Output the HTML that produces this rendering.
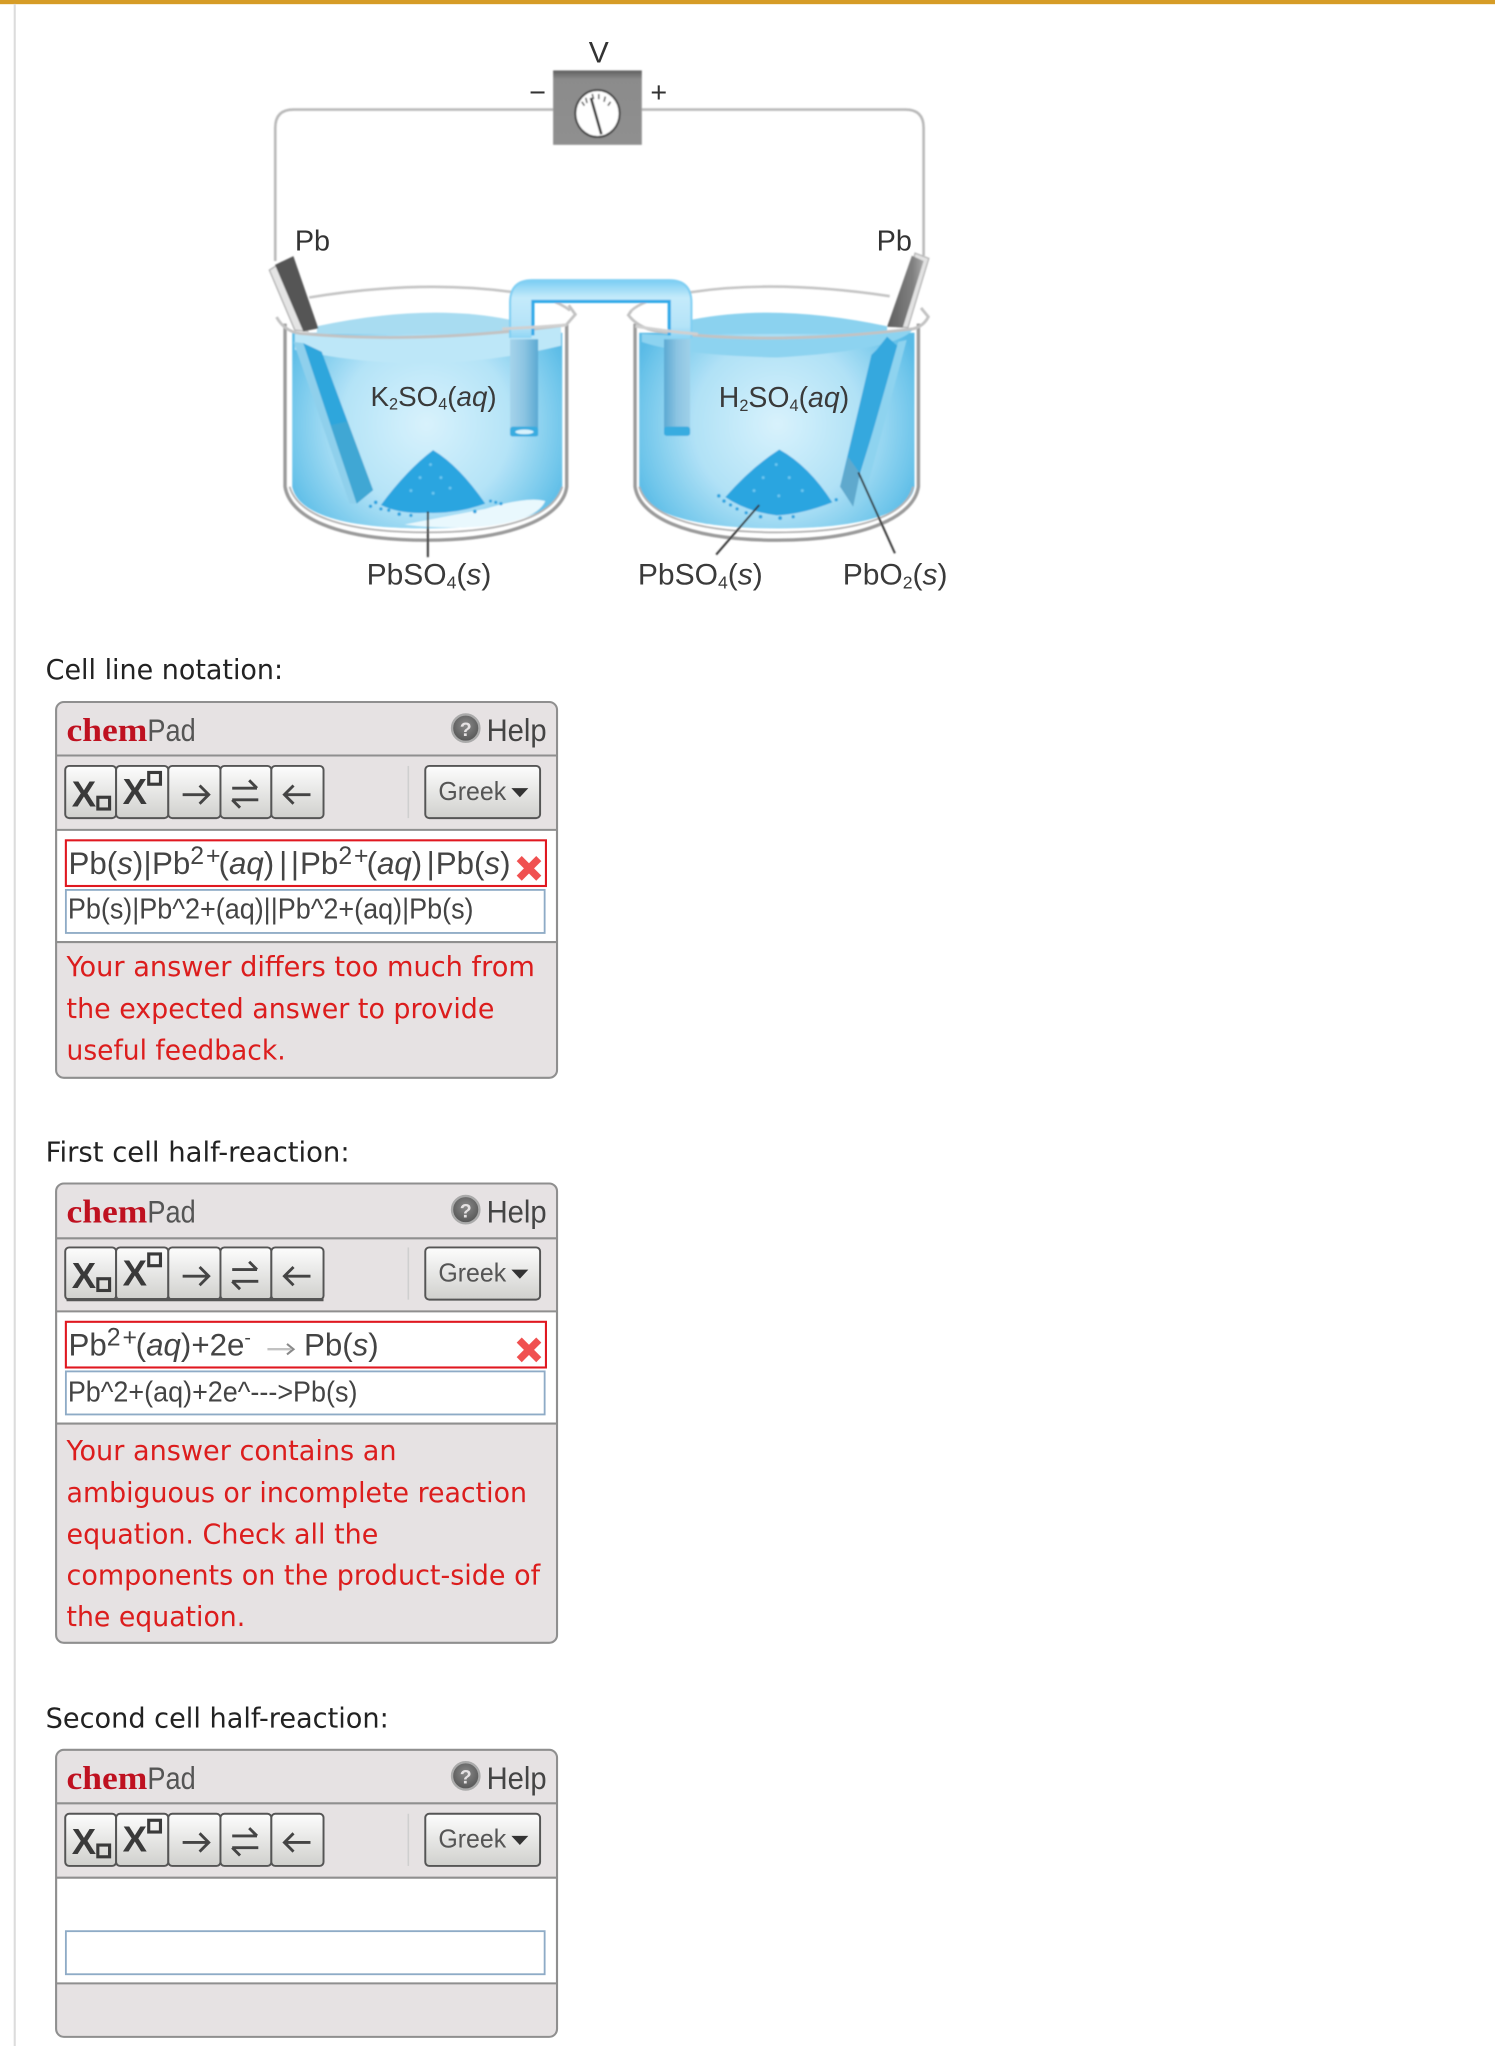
<!DOCTYPE html>
<html><head><meta charset="utf-8"><title>chemPad galvanic cell</title>
<style>
html,body{margin:0;padding:0;background:#fff;width:1495px;height:2046px;overflow:hidden}
svg{display:block}
.d{font-family:"DejaVu Sans",sans-serif}
.s{font-family:"Liberation Sans",sans-serif}
</style></head><body>
<svg width="1495" height="2046" viewBox="0 0 1146 1568" preserveAspectRatio="none" xmlns="http://www.w3.org/2000/svg">
<defs>
<linearGradient id="btn" x1="0" y1="0" x2="0" y2="1"><stop offset="0" stop-color="#fdfdfd"/><stop offset="1" stop-color="#d0d0cd"/></linearGradient>
<radialGradient id="liqL" gradientUnits="userSpaceOnUse" cx="327" cy="325" r="118"><stop offset="0" stop-color="#d8f2fc"/><stop offset=".55" stop-color="#b4e3f7"/><stop offset=".9" stop-color="#6ec5ea"/><stop offset="1" stop-color="#5abbe6"/></radialGradient>
<radialGradient id="liqR" gradientUnits="userSpaceOnUse" cx="596" cy="325" r="118"><stop offset="0" stop-color="#d8f2fc"/><stop offset=".55" stop-color="#b0e1f6"/><stop offset=".9" stop-color="#6ec5ea"/><stop offset="1" stop-color="#5abbe6"/></radialGradient>
<linearGradient id="meter" x1="0" y1="0" x2="0" y2="1"><stop offset="0" stop-color="#5f5f5f"/><stop offset=".12" stop-color="#8b8b8b"/><stop offset="1" stop-color="#8f8f8f"/></linearGradient>
<linearGradient id="pbR" x1="0" y1="0" x2="1" y2="0"><stop offset="0" stop-color="#5f5f5f"/><stop offset=".7" stop-color="#808080"/><stop offset="1" stop-color="#a8a8a8"/></linearGradient>
<linearGradient id="tubeH" x1="0" y1="0" x2="0" y2="1"><stop offset="0" stop-color="#79cdf3"/><stop offset=".3" stop-color="#c4eafa"/><stop offset=".8" stop-color="#b4e3f8"/><stop offset="1" stop-color="#8fd5f4"/></linearGradient>
<linearGradient id="legL" x1="0" y1="0" x2="1" y2="0"><stop offset="0" stop-color="#a5d3ea"/><stop offset=".5" stop-color="#8cc4e2"/><stop offset="1" stop-color="#5ba9d2"/></linearGradient>
<linearGradient id="legR" x1="0" y1="0" x2="1" y2="0"><stop offset="0" stop-color="#5ba9d2"/><stop offset=".5" stop-color="#8cc4e2"/><stop offset="1" stop-color="#9fd0e8"/></linearGradient>
<radialGradient id="help" cx=".5" cy=".4" r=".6"><stop offset="0" stop-color="#8a8a8a"/><stop offset="1" stop-color="#555"/></radialGradient>
<filter id="soft" x="-5%" y="-5%" width="110%" height="110%"><feGaussianBlur stdDeviation="0.55"/></filter>
</defs>
<rect width="1146" height="1568" fill="#fff"/>
<rect x="0" y="0" width="1146" height="3.2" fill="#d69c26"/>
<rect x="10.5" y="3" width="1.6" height="1565" fill="#dcdcdc"/>

<!-- DIAGRAM -->
<g filter="url(#soft)">
<path d="M424 84H225Q211 84 211 98V200M492 84H694Q708 84 708 98V196" fill="none" stroke="#b9b9b9" stroke-width="2"/>
<rect x="424" y="54" width="68" height="57" fill="url(#meter)"/>
<ellipse cx="458" cy="87" rx="17" ry="18" fill="#fff" stroke="#444" stroke-width="1.6"/>
<path d="M446 78l2 3M449 75l1 4M454 72l1 4M459 72v4M464 74l-1 4M468 78l-2 3" stroke="#555" stroke-width="1.2"/>
<path d="M453 75L461 103" stroke="#333" stroke-width="2"/>

<!-- left beaker -->
<path d="M237 228Q322 214 394 224M394 224Q425 228 437 238" fill="none" stroke="#c4c4c4" stroke-width="2"/>
<path d="M224 255H431V373C428 392 395 405 327 405C258 405 228 392 224 373Z" fill="url(#liqL)"/>
<path d="M243 250Q327 232 391 245V256H243Z" fill="#a8dcf1"/>
<path d="M226 256Q322 262 430 250V265Q327 290 226 268Z" fill="#bde7f8"/>
<path d="M372 390Q405 380 418 384Q412 398 375 403Q340 406 310 402Z" fill="#e9f8fd"/>
<path d="M218.500 248V373C222 395 255 414 327 414C395 414 432 395 434.400 373V248" fill="none" stroke="#9a9a9a" stroke-width="2.6"/>
<path d="M222 373C228 393 258 408 327 408C395 408 425 393 431 373" fill="none" stroke="#b0b0b0" stroke-width="1.4"/>
<path d="M212 243Q218 254 230 255.500Q322 264 434 249L441 241L436 234" fill="none" stroke="#c2c2c2" stroke-width="2.2"/>

<!-- right beaker -->
<path d="M529 224Q595 214 682 227M529 224Q495 228 484 238" fill="none" stroke="#c4c4c4" stroke-width="2"/>
<path d="M490 255H701V373C698 392 665 405 596 405C527 405 493 392 490 373Z" fill="url(#liqR)"/>
<path d="M530 245Q595 232 680 250V256H530Z" fill="#8bd2ef"/>
<path d="M492 256Q592 262 700 252Q690 268 596 274Q520 272 492 262Z" fill="#8dd3f0"/>
<path d="M486.800 248V373C490 395 524 414 596 414C665 414 701 395 704 373V248" fill="none" stroke="#9a9a9a" stroke-width="2.6"/>
<path d="M490 373C496 393 527 408 596 408C665 408 695 393 700 373" fill="none" stroke="#b0b0b0" stroke-width="1.4"/>
<path d="M484 238L481.700 241.500Q490 252 505 254Q592 265 700 252Q708 250 711.600 242.800L706 236" fill="none" stroke="#c2c2c2" stroke-width="2.2"/>

<!-- left electrode -->
<path d="M206.500 207L216 201L236 254L226 253Z" fill="#e4e4e4" stroke="#b0b0b0" stroke-width="1"/>
<path d="M210.800 203L224.900 196.300L244 251.700L232.500 254Z" fill="#555"/>
<path d="M225 262L233 263L273 386L268 386Z" fill="#8fd0ec"/>
<path d="M232.500 263L246.600 269.600L286 375.600L273.400 386Z" fill="#2fa6dc"/>
<path d="M266.400 323L286 375.600L273.400 386L253.400 326Z" fill="#4fa8cf" opacity=".6"/>

<!-- right electrode -->
<path d="M701.400 194L712 198L696 251L688 250.400Z" fill="#e2e2e2" stroke="#b5b5b5" stroke-width="1"/>
<path d="M699 196L708 200L692 251L680 250.400Z" fill="url(#pbR)"/>
<path d="M680 258L689 266L659.300 363L644 373L668 272L672 268Z" fill="#35a8de"/>
<path d="M695 260.600L688.600 262L654 384L657 388.400L663 380Z" fill="#8ed3ef"/>
<path d="M644 373L654 388.400L659.300 363L650 350Z" fill="#5fa9cd"/>

<!-- salt bridge -->
<path d="M391 259V232Q391 214.700 408 214.700H513Q530 214.700 530 232V259H513.600V231.300H407.500V259Z" fill="url(#tubeH)"/>
<path d="M391 259V232Q391 214.700 408 214.700H513Q530 214.700 530 232V259" fill="none" stroke="#80cff3" stroke-width="1.6"/>
<path d="M408.500 257V231H513V257" fill="none" stroke="#2fa9e8" stroke-width="2.4"/>
<rect x="391" y="260" width="21.500" height="74" fill="url(#legL)"/>
<rect x="509" y="260" width="20" height="73" fill="url(#legR)"/>
<rect x="391" y="327" width="21.500" height="7.500" rx="2" fill="#38ace0"/>
<rect x="509" y="327" width="20" height="7" rx="2" fill="#38ace0"/>
<ellipse cx="402" cy="331" rx="7" ry="1.800" fill="#d8f2fc"/>

<!-- rim over tubes -->
<path d="M385 252Q410 251 434 249M487 250Q510 254 535 256" fill="none" stroke="#d0d0d0" stroke-width="2.2"/>

<!-- piles -->
<path d="M332 345Q352 357 372 386Q350 394 327 393Q306 394 292 387Q312 360 332 345Z" fill="#2aa5e0"/>
<path d="M597.400 344.500Q620 357 638 385Q615 394 595.400 395Q572 392 556 381Q576 358 597.400 344.500Z" fill="#2aa5e0"/>
<g fill="#2aa5e0"><circle cx="284" cy="388" r="1.300"/><circle cx="288" cy="385" r="1.400"/><circle cx="292" cy="390" r="1.300"/><circle cx="298" cy="391" r="1.300"/><circle cx="306" cy="394" r="1.400"/><circle cx="315" cy="395" r="1.300"/><circle cx="376" cy="384" r="1.200"/><circle cx="380" cy="385" r="1.200"/><circle cx="384" cy="386" r="1.300"/><circle cx="364" cy="392" r="1.400"/>
<circle cx="551" cy="380" r="1.400"/><circle cx="555" cy="384" r="1.400"/><circle cx="560" cy="387" r="1.300"/><circle cx="565" cy="390" r="1.300"/><circle cx="572" cy="393" r="1.300"/><circle cx="583" cy="396" r="1.400"/><circle cx="598" cy="397" r="1.500"/><circle cx="608" cy="396" r="1.300"/><circle cx="641" cy="383" r="1.300"/></g>
<g fill="#6ac6ef"><circle cx="330" cy="356" r="1.100"/><circle cx="322" cy="366" r="1.100"/><circle cx="338" cy="366" r="1.100"/><circle cx="345" cy="374" r="1.100"/><circle cx="315" cy="376" r="1.100"/><circle cx="332" cy="378" r="1.100"/>
<circle cx="595" cy="356" r="1.100"/><circle cx="585" cy="366" r="1.100"/><circle cx="605" cy="366" r="1.100"/><circle cx="615" cy="376" r="1.100"/><circle cx="578" cy="376" r="1.100"/><circle cx="597" cy="380" r="1.100"/></g>

<!-- leaders -->
<path d="M328 392V427M582 387L549 425M658 362L686 424" stroke="#333" stroke-width="1.500" fill="none"/>
</g>

<text x="459" y="48" class="s" font-size="23" fill="#333" text-anchor="middle">V</text>
<text x="412" y="78" class="s" font-size="22" fill="#333" text-anchor="middle">−</text>
<text x="505" y="78" class="s" font-size="22" fill="#333" text-anchor="middle">+</text>
<text x="226" y="192" class="s" font-size="22" fill="#333" textLength="27" lengthAdjust="spacingAndGlyphs">Pb</text>
<text x="672" y="192" class="s" font-size="22" fill="#333" textLength="27" lengthAdjust="spacingAndGlyphs">Pb</text>
<text x="284" y="311" class="s" font-size="21.300" fill="#3a3a3a">K<tspan font-size="12.500" dy="3">2</tspan><tspan dy="-3">SO</tspan><tspan font-size="12.500" dy="3">4</tspan><tspan dy="-3">(</tspan><tspan font-style="italic">aq</tspan>)</text>
<text x="551" y="312" class="s" font-size="21.800" fill="#3a3a3a">H<tspan font-size="12.500" dy="3">2</tspan><tspan dy="-3">SO</tspan><tspan font-size="12.500" dy="3">4</tspan><tspan dy="-3">(</tspan><tspan font-style="italic">aq</tspan>)</text>
<text x="281" y="448" class="s" font-size="23" fill="#3a3a3a">PbSO<tspan font-size="13.500" dy="3">4</tspan><tspan dy="-3">(</tspan><tspan font-style="italic">s</tspan>)</text>
<text x="489" y="448" class="s" font-size="23" fill="#3a3a3a">PbSO<tspan font-size="13.500" dy="3">4</tspan><tspan dy="-3">(</tspan><tspan font-style="italic">s</tspan>)</text>
<text x="646" y="448" class="s" font-size="23" fill="#3a3a3a">PbO<tspan font-size="13.500" dy="3">2</tspan><tspan dy="-3">(</tspan><tspan font-style="italic">s</tspan>)</text>

<!-- LABELS -->
<text x="35" y="520.500" class="d" font-size="21" fill="#222" textLength="182" lengthAdjust="spacingAndGlyphs">Cell line notation:</text>
<text x="35" y="890" class="d" font-size="21" fill="#222" textLength="233" lengthAdjust="spacingAndGlyphs">First cell half-reaction:</text>
<text x="35" y="1324" class="d" font-size="21" fill="#222" textLength="263" lengthAdjust="spacingAndGlyphs">Second cell half-reaction:</text>

<!-- PANEL 1 -->
<g transform="translate(0,538)">
<rect x="43" y="0" width="384" height="288" rx="6" fill="#e6e2e3" stroke="#8f8f8f" stroke-width="1.600"/>
<rect x="44" y="98" width="382" height="86" fill="#fff"/>
<path d="M43 41H427M43 98H427M43 184H427" stroke="#8f8f8f" stroke-width="1.600"/>
<text x="51" y="30" font-family="Liberation Serif,serif" font-weight="bold" font-size="25" fill="#bf1120" textLength="62" lengthAdjust="spacingAndGlyphs">chem</text>
<text x="113" y="30" class="s" font-size="24" fill="#555" textLength="37" lengthAdjust="spacingAndGlyphs">Pad</text>
<circle cx="357" cy="20" r="10.500" fill="url(#help)" stroke="#aaa" stroke-width="1.800"/>
<text x="357" y="26" class="s" font-size="15" font-weight="bold" fill="#e5e2e3" text-anchor="middle">?</text>
<text x="373" y="30" class="s" font-size="24" fill="#444" textLength="46" lengthAdjust="spacingAndGlyphs">Help</text>
<g fill="url(#btn)" stroke="#555" stroke-width="1.500">
<rect x="50" y="49" width="39" height="40" rx="3"/><rect x="89" y="49" width="40" height="40" rx="3"/><rect x="129" y="49" width="40" height="40" rx="3"/><rect x="169" y="49" width="39" height="40" rx="3"/><rect x="208" y="49" width="40" height="40" rx="3"/><rect x="326" y="49" width="88" height="40" rx="3"/>
</g>
<path d="M313 49V89" stroke="#cfcfcf" stroke-width="1.200"/>
<text x="55" y="80" class="s" font-size="28" font-weight="bold" fill="#3a3a3a">X</text>
<rect x="75" y="73" width="9" height="9" fill="none" stroke="#3a3a3a" stroke-width="2.400"/>
<text x="94" y="78" class="s" font-size="28" font-weight="bold" fill="#3a3a3a">X</text>
<rect x="114" y="54" width="9" height="9" fill="none" stroke="#3a3a3a" stroke-width="2.400"/>
<g fill="none" stroke="#444" stroke-width="2.200">
<path d="M140 71H160M153 64L160 71L153 78"/>
<path d="M178 66H197M191 60L197 66M198 75H178M184 81L178 75"/>
<path d="M218 71H238M225 64L218 71L225 78"/>
</g>
<text x="336" y="75" class="s" font-size="20" fill="#555" textLength="52" lengthAdjust="spacingAndGlyphs">Greek</text>
<path d="M392 66H405L398.500 73Z" fill="#333"/>
<rect x="50.500" y="106" width="368" height="35" fill="#fff" stroke="#e01820" stroke-width="1.600"/>
<text y="132" class="s" font-size="24" fill="#444"><tspan x="52.500">Pb(</tspan><tspan font-style="italic">s</tspan>)<tspan x="110">|</tspan><tspan x="116.500">Pb</tspan><tspan font-size="19" dy="-8" letter-spacing="1.500">2+</tspan><tspan x="167.500" dy="8">(</tspan><tspan font-style="italic">aq</tspan>)<tspan x="214">|</tspan><tspan x="223">|</tspan><tspan x="230">Pb</tspan><tspan font-size="19" dy="-8" letter-spacing="1.500">2+</tspan><tspan x="281" dy="8">(</tspan><tspan font-style="italic">aq</tspan>)<tspan x="327">|</tspan><tspan x="334">Pb(</tspan><tspan font-style="italic">s</tspan>)</text>
<path d="M398 120L413 135M413 120L398 135" stroke="#f05050" stroke-width="5.500"/>
<rect x="50.500" y="144" width="367" height="33" fill="#fff" stroke="#8eabc6" stroke-width="1.400"/>
<text x="52" y="166" class="s" font-size="22" fill="#444" textLength="311" lengthAdjust="spacingAndGlyphs">Pb(s)|Pb^2+(aq)||Pb^2+(aq)|Pb(s)</text>
<text x="51" y="210" class="d" font-size="21" fill="#dc1d1d" textLength="359" lengthAdjust="spacingAndGlyphs">Your answer differs too much from</text>
<text x="51" y="242" class="d" font-size="21" fill="#dc1d1d" textLength="328" lengthAdjust="spacingAndGlyphs">the expected answer to provide</text>
<text x="51" y="274" class="d" font-size="21" fill="#dc1d1d" textLength="168" lengthAdjust="spacingAndGlyphs">useful feedback.</text>
</g>

<!-- PANEL 2 -->
<g transform="translate(0,907)">
<rect x="43" y="0" width="384" height="352" rx="6" fill="#e6e2e3" stroke="#8f8f8f" stroke-width="1.600"/>
<rect x="44" y="98" width="382" height="86" fill="#fff"/>
<path d="M43 42H427M43 98H427M43 184H427" stroke="#8f8f8f" stroke-width="1.600"/>
<text x="51" y="30" font-family="Liberation Serif,serif" font-weight="bold" font-size="25" fill="#bf1120" textLength="62" lengthAdjust="spacingAndGlyphs">chem</text>
<text x="113" y="30" class="s" font-size="24" fill="#555" textLength="37" lengthAdjust="spacingAndGlyphs">Pad</text>
<circle cx="357" cy="20" r="10.500" fill="url(#help)" stroke="#aaa" stroke-width="1.800"/>
<text x="357" y="26" class="s" font-size="15" font-weight="bold" fill="#e5e2e3" text-anchor="middle">?</text>
<text x="373" y="30" class="s" font-size="24" fill="#444" textLength="46" lengthAdjust="spacingAndGlyphs">Help</text>
<g fill="url(#btn)" stroke="#555" stroke-width="1.500">
<rect x="50" y="49" width="39" height="40" rx="3"/><rect x="89" y="49" width="40" height="40" rx="3"/><rect x="129" y="49" width="40" height="40" rx="3"/><rect x="169" y="49" width="39" height="40" rx="3"/><rect x="208" y="49" width="40" height="40" rx="3"/><rect x="326" y="49" width="88" height="40" rx="3"/>
</g>
<path d="M51 89H248" stroke="#555" stroke-width="2.500"/>
<path d="M313 49V89" stroke="#cfcfcf" stroke-width="1.200"/>
<text x="55" y="80" class="s" font-size="28" font-weight="bold" fill="#3a3a3a">X</text>
<rect x="75" y="73" width="9" height="9" fill="none" stroke="#3a3a3a" stroke-width="2.400"/>
<text x="94" y="78" class="s" font-size="28" font-weight="bold" fill="#3a3a3a">X</text>
<rect x="114" y="54" width="9" height="9" fill="none" stroke="#3a3a3a" stroke-width="2.400"/>
<g fill="none" stroke="#444" stroke-width="2.200">
<path d="M140 71H160M153 64L160 71L153 78"/>
<path d="M178 66H197M191 60L197 66M198 75H178M184 81L178 75"/>
<path d="M218 71H238M225 64L218 71L225 78"/>
</g>
<text x="336" y="75" class="s" font-size="20" fill="#555" textLength="52" lengthAdjust="spacingAndGlyphs">Greek</text>
<path d="M392 66H405L398.500 73Z" fill="#333"/>
<rect x="50.500" y="106" width="368" height="35" fill="#fff" stroke="#e01820" stroke-width="1.600"/>
<text y="132" class="s" font-size="24" fill="#444"><tspan x="52.500">Pb</tspan><tspan font-size="19" dy="-8" letter-spacing="1.500">2+</tspan><tspan x="104" dy="8">(</tspan><tspan font-style="italic">aq</tspan>)+2e<tspan font-size="15" dy="-9">-</tspan></text>
<path d="M205 127H223" stroke="#c2c2c2" stroke-width="1.800"/><path d="M220 123L225 127L220 131" fill="none" stroke="#8a8a8a" stroke-width="1.600"/>
<text x="233" y="132" class="s" font-size="24" fill="#444">Pb(<tspan font-style="italic">s</tspan>)</text>
<path d="M398 120L413 135M413 120L398 135" stroke="#f05050" stroke-width="5.500"/>
<rect x="50.500" y="144" width="367" height="33" fill="#fff" stroke="#8eabc6" stroke-width="1.400"/>
<text x="52" y="167" class="s" font-size="22" fill="#444" textLength="222" lengthAdjust="spacingAndGlyphs">Pb^2+(aq)+2e^---&gt;Pb(s)</text>
<text x="51" y="212" class="d" font-size="21" fill="#dc1d1d" textLength="253" lengthAdjust="spacingAndGlyphs">Your answer contains an</text>
<text x="51" y="244" class="d" font-size="21" fill="#dc1d1d" textLength="353" lengthAdjust="spacingAndGlyphs">ambiguous or incomplete reaction</text>
<text x="51" y="276" class="d" font-size="21" fill="#dc1d1d" textLength="239" lengthAdjust="spacingAndGlyphs">equation. Check all the</text>
<text x="51" y="307.500" class="d" font-size="21" fill="#dc1d1d" textLength="363" lengthAdjust="spacingAndGlyphs">components on the product-side of</text>
<text x="51" y="339" class="d" font-size="21" fill="#dc1d1d" textLength="137" lengthAdjust="spacingAndGlyphs">the equation.</text>
</g>

<!-- PANEL 3 -->
<g transform="translate(0,1341)">
<rect x="43" y="0" width="384" height="220" rx="6" fill="#e6e2e3" stroke="#8f8f8f" stroke-width="1.600"/>
<rect x="44" y="98" width="382" height="81" fill="#fff"/>
<path d="M43 41H427M43 98H427M43 179H427" stroke="#8f8f8f" stroke-width="1.600"/>
<text x="51" y="30" font-family="Liberation Serif,serif" font-weight="bold" font-size="25" fill="#bf1120" textLength="62" lengthAdjust="spacingAndGlyphs">chem</text>
<text x="113" y="30" class="s" font-size="24" fill="#555" textLength="37" lengthAdjust="spacingAndGlyphs">Pad</text>
<circle cx="357" cy="20" r="10.500" fill="url(#help)" stroke="#aaa" stroke-width="1.800"/>
<text x="357" y="26" class="s" font-size="15" font-weight="bold" fill="#e5e2e3" text-anchor="middle">?</text>
<text x="373" y="30" class="s" font-size="24" fill="#444" textLength="46" lengthAdjust="spacingAndGlyphs">Help</text>
<g fill="url(#btn)" stroke="#555" stroke-width="1.500">
<rect x="50" y="49" width="39" height="40" rx="3"/><rect x="89" y="49" width="40" height="40" rx="3"/><rect x="129" y="49" width="40" height="40" rx="3"/><rect x="169" y="49" width="39" height="40" rx="3"/><rect x="208" y="49" width="40" height="40" rx="3"/><rect x="326" y="49" width="88" height="40" rx="3"/>
</g>
<path d="M313 49V89" stroke="#cfcfcf" stroke-width="1.200"/>
<text x="55" y="80" class="s" font-size="28" font-weight="bold" fill="#3a3a3a">X</text>
<rect x="75" y="73" width="9" height="9" fill="none" stroke="#3a3a3a" stroke-width="2.400"/>
<text x="94" y="78" class="s" font-size="28" font-weight="bold" fill="#3a3a3a">X</text>
<rect x="114" y="54" width="9" height="9" fill="none" stroke="#3a3a3a" stroke-width="2.400"/>
<g fill="none" stroke="#444" stroke-width="2.200">
<path d="M140 71H160M153 64L160 71L153 78"/>
<path d="M178 66H197M191 60L197 66M198 75H178M184 81L178 75"/>
<path d="M218 71H238M225 64L218 71L225 78"/>
</g>
<text x="336" y="75" class="s" font-size="20" fill="#555" textLength="52" lengthAdjust="spacingAndGlyphs">Greek</text>
<path d="M392 66H405L398.500 73Z" fill="#333"/>
<rect x="50.500" y="139" width="367" height="33" fill="#fff" stroke="#8eabc6" stroke-width="1.400"/>
</g>
</svg>
</body></html>
